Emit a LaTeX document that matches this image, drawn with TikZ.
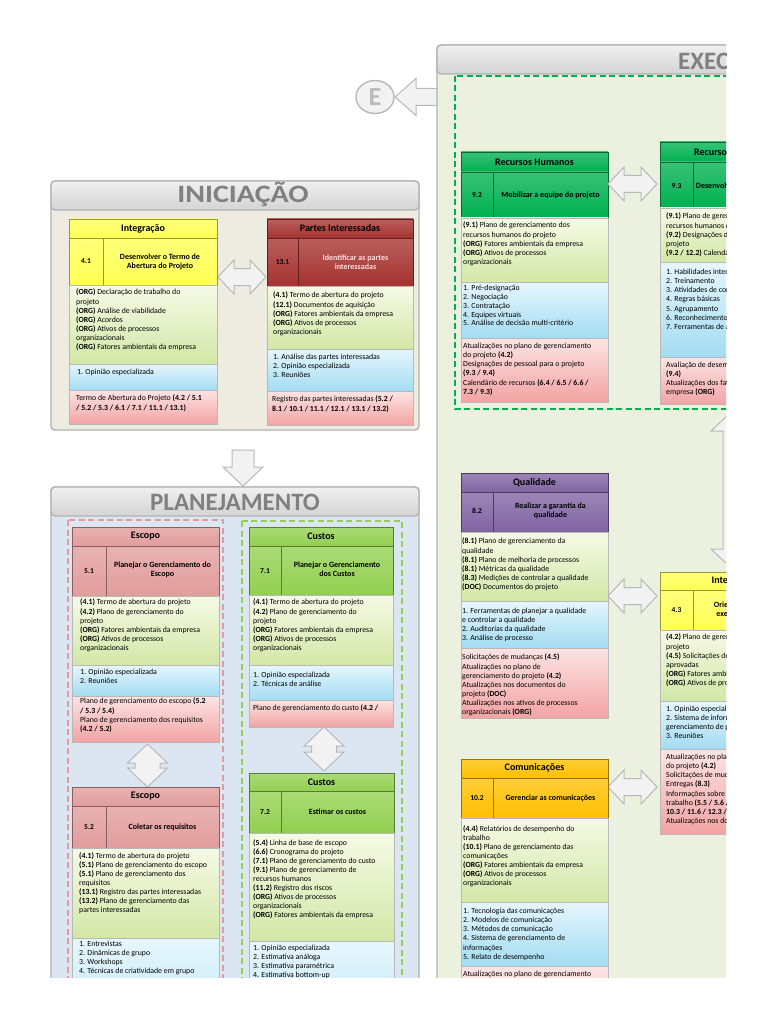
\documentclass[tikz,border=0pt]{standalone}
\usepackage{fontspec}
\setmainfont{Carlito}
\usetikzlibrary{shapes.geometric}
\definecolor{cYel}{HTML}{FFFF55}
\definecolor{cPI}{HTML}{A5322F}
\definecolor{cRH}{HTML}{00B050}
\definecolor{cQual}{HTML}{8064A2}
\definecolor{cCom}{HTML}{FFC000}
\definecolor{cEsc}{HTML}{E29C9C}
\definecolor{cCus}{HTML}{92D050}
\definecolor{ingtop}{HTML}{F5FAE6}
\definecolor{ingbot}{HTML}{D3E7A6}
\definecolor{tltop}{HTML}{E6F6FD}
\definecolor{tlbot}{HTML}{A3DCF2}
\definecolor{outtop}{HTML}{FDE4E4}
\definecolor{outbot}{HTML}{F2A3A3}
\definecolor{inicbg}{HTML}{EEECE1}
\definecolor{planbg}{HTML}{DCE6F2}
\definecolor{execbg}{HTML}{EBF1DE}
\definecolor{dgreen}{HTML}{00B050}
\definecolor{lgreen}{HTML}{92D050}
\definecolor{dred}{HTML}{E29C9C}
\newcommand\kb[1]{\textbf{#1}}
\newcommand\cardframe[9]{%
  \path[hdrc] (#1,#4) rectangle (#3,#5);
  \path[hdrc] (#1,#5) rectangle (#2,#6);
  \path[hdrc] (#2,#5) rectangle (#3,#6);
  \path[inbox] (#1,#6) rectangle (#3,#7);
  \path[toolbox] (#1,#7) rectangle (#3,#8);
  \path[outbox] (#1,#8) rectangle (#3,#9);
}
\newcommand\hdarr[3]{%
  \path[blk] (#1,#3) -- (#1+16,#3-17) -- (#1+16,#3-8.5) -- (#2-16,#3-8.5) -- (#2-16,#3-17) -- (#2,#3) -- (#2-16,#3+17) -- (#2-16,#3+8.5) -- (#1+16,#3+8.5) -- (#1+16,#3+17) -- cycle;}
\newcommand\vdarr[4]{%
  \path[blk] (#1,#2) -- (#1+20,#2+19) -- (#1+#4,#2+19) -- (#1+#4,#3-19) -- (#1+20,#3-19) -- (#1,#3) -- (#1-20,#3-19) -- (#1-#4,#3-19) -- (#1-#4,#2+19) -- (#1-20,#2+19) -- cycle;}
\begin{document}
\begin{tikzpicture}[x=1pt,y=-1pt,
  secbody/.style={draw=black!30, line width=1.4pt, rounded corners=4pt, fill=#1},
  sechead/.style={draw=black!30, line width=1.4pt, rounded corners=4pt, top color=black!6, bottom color=black!17},
  sectitle/.style={font=\fontsize{25}{28}\selectfont\bfseries, text=black!50, inner sep=0pt, anchor=base},
  hdrc/.style={draw=cc!60!black, line width=0.6pt, top color=cc!78!white, bottom color=cc},
  inbox/.style={draw=black!28, line width=0.5pt, top color=ingtop, bottom color=ingbot},
  toolbox/.style={draw=black!28, line width=0.5pt, top color=tltop, bottom color=tlbot},
  outbox/.style={draw=black!28, line width=0.5pt, top color=outtop, bottom color=outbot},
  ttl/.style={font=\fontsize{10}{12}\selectfont\bfseries, inner sep=0pt},
  num/.style={font=\fontsize{7.5}{9}\selectfont\bfseries, inner sep=0pt},
  pname/.style={font=\fontsize{8}{9.2}\selectfont\bfseries, inner sep=0pt, align=center},
  body/.style={font=\fontsize{7.8}{9.1}\selectfont, inner sep=0pt, anchor=north west, align=left, yshift=4pt},
  blk/.style={draw=black!28, line width=1pt, fill=black!5},
  dashbox/.style={draw=#1, line width=1.6pt, dash pattern=on 6pt off 3.5pt}
]
\useasboundingbox (0,0) rectangle (768,1024);
\fill[white] (0,0) rectangle (768,1024);
\begin{scope}
\clip (0,0) rectangle (726,977);

% ---------------- INICIACAO ----------------
\path[secbody=inicbg] (51,181) rectangle (419,430);
\path[sechead] (51,181) rectangle (419,210);
\node[sectitle] (inictitle) at (243,203) {\scalebox{1.2}[1]{INICIAÇÃO}};

\colorlet{cc}{cYel}
\cardframe{69}{103}{217}{219}{238}{285}{364}{390}{424}
\node[ttl] (t41) at (143,228.5) {Integração};
\node[num] (n41) at (86,261.5) {4.1};
\node[pname] (p41) at (160,261.5) {Desenvolver o Termo de\\Abertura do Projeto};
\node[body] (i41) at (76,293) {\kb{(ORG)} Declaração de trabalho do\\projeto\\\kb{(ORG)} Análise de viabilidade\\\kb{(ORG)} Acordos\\\kb{(ORG)} Ativos de processos\\organizacionais\\\kb{(ORG)} Fatores ambientais da empresa};
\node[body] (f41) at (77,373) {1. Opinião especializada};
\node[body] (o41) at (76,399) {Termo de Abertura do Projeto \kb{(4.2 / 5.1}\\\kb{/ 5.2 / 5.3 / 6.1 / 7.1 / 11.1 / 13.1)}};

\colorlet{cc}{cPI}
\cardframe{267}{298}{413}{219}{238}{286}{349}{391}{425}
\node[ttl] (t131) at (340,228.5) {Partes Interessadas};
\node[num] (n131) at (282.5,262) {13.1};
\node[pname, text=white!88!red] (p131) at (355.5,262) {Identificar as partes\\interessadas};
\node[body] (i131) at (273,296) {\kb{(4.1)} Termo de abertura do  projeto\\\kb{(12.1)} Documentos de aquisição\\\kb{(ORG)} Fatores ambientais da empresa\\\kb{(ORG)} Ativos de processos\\organizacionais};
\node[body] (f131) at (273,358) {1. Análise das partes interessadas\\2. Opinião especializada\\3. Reuniões};
\node[body] (o131) at (272,400) {Registro das partes interessadas \kb{(5.2 /}\\\kb{8.1 / 10.1 / 11.1 / 12.1 / 13.1 / 13.2)}};

\hdarr{218}{266}{277}

% down arrow Iniciacao -> Planejamento
\path[blk] (232,450) -- (254,450) -- (254,467) -- (263,467) -- (243,486) -- (223,467) -- (232,467) -- cycle;

% ---------------- PLANEJAMENTO ----------------
\path[secbody=planbg] (51,487) rectangle (419,1100);
\path[sechead] (51,487) rectangle (419,516);
\node[sectitle] (plantitle) at (235,510) {PLANEJAMENTO};
\path[dashbox=dred] (68,520) rectangle (223,1100);
\path[dashbox=lgreen] (242,521) rectangle (402,1100);

\colorlet{cc}{cEsc}
\cardframe{72}{106}{219}{527}{546}{596}{665}{696}{742}
\node[ttl] (t51) at (145.5,536.5) {Escopo};
\node[num] (n51) at (89,571) {5.1};
\node[pname] (p51) at (162.5,569.5) {Planejar o Gerenciamento do\\Escopo};
\node[body] (i51) at (80,603) {\kb{(4.1)} Termo de abertura do projeto\\\kb{(4.2)} Plano de gerenciamento do\\projeto\\\kb{(ORG)} Fatores ambientais da empresa\\\kb{(ORG)} Ativos de processos\\organizacionais};
\node[body] (f51) at (80,673) {1. Opinião especializada\\2. Reuniões};
\node[body] (o51) at (80,702) {Plano de gerenciamento do escopo \kb{(5.2}\\\kb{/ 5.3 / 5.4)}\\Plano de gerenciamento dos requisitos\\\kb{(4.2 / 5.2)}};

\vdarr{147.5}{744}{787}{12.5}

\cardframe{72}{106}{219}{787}{806}{848}{938}{1100}{1100}
\node[ttl] (t52) at (145.5,796.5) {Escopo};
\node[num] (n52) at (89,827) {5.2};
\node[pname] (p52) at (162.5,827) {Coletar os requisitos};
\node[body] (i52) at (79,856) {\kb{(4.1)} Termo de abertura do projeto\\\kb{(5.1)} Plano de gerenciamento do escopo\\\kb{(5.1)} Plano de gerenciamento dos\\requisitos\\\kb{(13.1)} Registro das partes interessadas\\\kb{(13.2)} Plano de gerenciamento das\\partes interessadas};
\node[body] (f52) at (79,945) {1. Entrevistas\\2. Dinâmicas de grupo\\3. Workshops\\4. Técnicas de criatividade em grupo};

\colorlet{cc}{cCus}
\cardframe{249}{281}{393}{527}{546}{595}{665}{700}{727}
\node[ttl] (t71) at (321,536.5) {Custos};
\node[num] (n71) at (265,571) {7.1};
\node[pname] (p71) at (337,569.5) {Planejar o Gerenciamento\\dos Custos};
\node[body] (i71) at (253,603) {\kb{(4.1)} Termo de abertura do projeto\\\kb{(4.2)} Plano de gerenciamento do\\projeto\\\kb{(ORG)} Fatores ambientais da empresa\\\kb{(ORG)} Ativos de processos\\organizacionais};
\node[body] (f71) at (253,676) {1. Opinião especializada\\2. Técnicas de análise};
\node[body] (o71) at (253,709) {Plano de gerenciamento do custo  \kb{(4.2 /}};

\vdarr{324}{727}{771}{12.5}

\cardframe{249}{281}{394}{773}{791}{833}{941}{1100}{1100}
\node[ttl] (t72) at (321.5,782) {Custos};
\node[num] (n72) at (265,812) {7.2};
\node[pname] (p72) at (337.5,812) {Estimar os custos};
\node[body] (i72) at (253,843) {\kb{(5.4)} Linha de base de escopo\\\kb{(6.6)} Cronograma do projeto\\\kb{(7.1)} Plano de gerenciamento do custo\\\kb{(9.1)} Plano de gerenciamento de\\recursos humanos\\\kb{(11.2)} Registro dos riscos\\\kb{(ORG)} Ativos de processos\\organizacionais\\\kb{(ORG)} Fatores ambientais da empresa};
\node[body] (f72) at (253,949) {1. Opinião especializada\\2. Estimativa análoga\\3. Estimativa paramétrica\\4. Estimativa bottom-up};

% ---------------- EXECUCAO ----------------
\path[blk] (395,97) -- (416,78.5) -- (416,88.5) -- (438,88.5) -- (438,105.5) -- (416,105.5) -- (416,115.5) -- cycle;
\node[ellipse, draw=black!28, line width=1.4pt, fill=black!5, minimum width=38pt, minimum height=33pt, inner sep=0pt, font=\fontsize{26}{28}\selectfont\bfseries, text=black!27] (E) at (375,97) {E};

\path[secbody=execbg] (437,45) rectangle (1000,1100);
\path[sechead] (437,45) rectangle (1000,74);
\node[sectitle, anchor=base west] (exectitle) at (678,70) {EXECUÇÃO};
\path[dashbox=dgreen] (455,76) rectangle (1000,409);

\colorlet{cc}{cRH}
\cardframe{461}{493}{608}{152}{172}{218}{282}{338}{402}
\node[ttl] (t92) at (534.5,162) {Recursos Humanos};
\node[num] (n92) at (477,195) {9.2};
\node[pname] (p92) at (550.5,195) {Mobilizar a equipe do projeto};
\node[body] (i92) at (463,226) {\kb{(9.1)} Plano de gerenciamento dos\\recursos humanos do projeto\\\kb{(ORG)} Fatores ambientais da empresa\\\kb{(ORG)} Ativos de processos\\organizacionais};
\node[body, font=\fontsize{7.8}{8.8}\selectfont] (f92) at (463,289) {1. Pré-designação\\2. Negociação\\3. Contratação\\4. Equipes virtuais\\5. Análise de decisão multi-critério};
\node[body] (o92) at (463,347) {Atualizações no plano de gerenciamento\\do projeto \kb{(4.2)}\\Designações de pessoal para o projeto\\\kb{(9.3 / 9.4)}\\Calendário de recursos \kb{(6.4 / 6.5 / 6.6 /}\\\kb{7.3 / 9.3)}};

\hdarr{608}{657}{184}

\cardframe{660}{693}{807}{142}{162}{208}{262}{357}{404}
\node[ttl] (t93) at (733.5,152) {Recursos Humanos};
\node[num] (n93) at (676.5,186) {9.3};
\node[pname] (p93) at (750,186) {Desenvolver a equipe do projeto};
\node[body] (i93) at (666,217) {\kb{(9.1)} Plano de gerenciamento dos\\recursos humanos do projeto\\\kb{(9.2)} Designações de pessoal para o\\projeto\\\kb{(9.2 / 12.2)} Calendário de recursos};
\node[body] (f93) at (666,273) {1. Habilidades interpessoais\\2. Treinamento\\3. Atividades de construção da equipe\\4. Regras básicas\\5. Agrupamento\\6. Reconhecimento e recompensas\\7. Ferramentas de avaliação de pessoal};
\node[body] (o93) at (666,366) {Avaliação de desempenho da equipe\\\kb{(9.4)}\\Atualizações dos fatores ambientais da\\empresa \kb{(ORG)}};

\vdarr{731}{412}{568}{8}

\colorlet{cc}{cQual}
\cardframe{461}{493}{608}{473}{492}{532}{601}{648}{718}
\node[ttl] (t82) at (534.5,482.5) {Qualidade};
\node[num] (n82) at (477,511) {8.2};
\node[pname] (p82) at (550.5,510.5) {Realizar a garantia da\\qualidade};
\node[body] (i82) at (462,542) {\kb{(8.1)} Plano de gerenciamento da\\qualidade\\\kb{(8.1)} Plano de melhoria de processos\\\kb{(8.1)} Métricas da qualidade\\\kb{(8.3)} Medições de controlar a qualidade\\\kb{(DOC)} Documentos do projeto};
\node[body] (f82) at (462,612) {1. Ferramentas de planejar a qualidade\\e controlar a qualidade\\2. Auditorias da qualidade\\3. Análise de processo};
\node[body] (o82) at (462,658) {Solicitações de mudanças \kb{(4.5)}\\Atualizações no plano de\\gerenciamento do projeto \kb{(4.2)}\\Atualizações nos documentos do\\projeto \kb{(DOC)}\\Atualizações nos ativos de processos\\organizacionais \kb{(ORG)}};

\hdarr{608}{657}{596}

\colorlet{cc}{cYel}
\cardframe{660}{693}{807}{572}{590}{630}{701}{749}{834}
\node[ttl] (t43) at (733.5,581) {Integração};
\node[num] (n43) at (676.5,610) {4.3};
\node[pname] (p43) at (750,610) {Orientar e gerenciar a\\execução do projeto};
\node[body] (i43) at (666,638) {\kb{(4.2)} Plano de gerenciamento do\\projeto\\\kb{(4.5)} Solicitações de mudança\\aprovadas\\\kb{(ORG)} Fatores ambientais da empresa\\\kb{(ORG)} Ativos de processos organizacionais};
\node[body] (f43) at (666,710) {1. Opinião especializada\\2. Sistema de informações de\\gerenciamento de projetos\\3. Reuniões};
\node[body] (o43) at (666,758) {Atualizações no plano de gerenciamento\\do projeto \kb{(4.2)}\\Solicitações de mudança\\Entregas \kb{(8.3)}\\Informações sobre o desempenho do\\trabalho \kb{(5.5 / 5.6 / 6.7 / 7.4 / 8.3 /}\\\kb{10.3 / 11.6 / 12.3 / 13.4)}\\Atualizações nos documentos do projeto};

\hdarr{608}{657}{787}

\colorlet{cc}{cCom}
\cardframe{461}{493}{608}{759}{778}{818}{902}{966}{1100}
\node[ttl] (t102) at (534.5,768) {Comunicações};
\node[num] (n102) at (477,798) {10.2};
\node[pname] (p102) at (550.5,798) {Gerenciar as comunicações};
\node[body] (i102) at (463,829) {\kb{(4.4)} Relatórios de desempenho do\\trabalho\\\kb{(10.1)} Plano de gerenciamento das\\comunicações\\\kb{(ORG)} Fatores ambientais da empresa\\\kb{(ORG)} Ativos de processos\\organizacionais};
\node[body] (f102) at (463,912) {1. Tecnologia das comunicações\\2. Modelos de comunicação\\3. Métodos de comunicação\\4. Sistema de gerenciamento de\\informações\\5. Relato de desempenho};
\node[body] (o102) at (463,975) {Atualizações no plano de gerenciamento};

\end{scope}
\end{tikzpicture}
\end{document}
